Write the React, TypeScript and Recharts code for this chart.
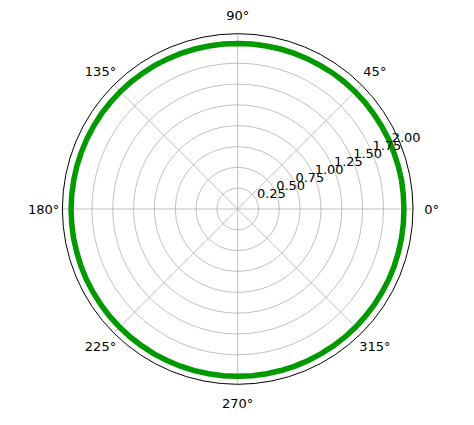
import { RadarChart, Radar, PolarGrid, PolarAngleAxis, PolarRadiusAxis } from 'recharts';

// angle in degrees, every 5°
const angles = [
  0, 5, 10, 15, 20, 25, 30, 35, 40, 45, 50, 55,
  60, 65, 70, 75, 80, 85, 90, 95, 100, 105, 110, 115,
  120, 125, 130, 135, 140, 145, 150, 155, 160, 165, 170, 175,
  180, 185, 190, 195, 200, 205, 210, 215, 220, 225, 230, 235,
  240, 245, 250, 255, 260, 265, 270, 275, 280, 285, 290, 295,
  300, 305, 310, 315, 320, 325, 330, 335, 340, 345, 350, 355,
];

// radius
const radii = [
  1.995, 1.995, 1.997, 1.995, 1.993, 1.995, 1.993, 1.992, 1.993, 1.992, 1.99, 1.99,
  1.988, 1.988, 1.987, 1.988, 1.986, 1.987, 1.986, 1.987, 1.986, 1.988, 1.987, 1.988,
  1.99, 1.99, 1.992, 1.993, 1.993, 1.995, 1.995, 1.996, 1.997, 1.998, 1.998, 1.999,
  2.0, 2.0, 2.001, 2.0, 2.002, 2.003, 2.003, 2.004, 2.005, 2.005, 2.006, 2.006,
  2.007, 2.007, 2.008, 2.008, 2.008, 2.009, 2.008, 2.008, 2.008, 2.007, 2.007, 2.006,
  2.005, 2.005, 2.004, 2.003, 2.002, 2.001, 2.0, 2.0, 1.999, 1.998, 1.997, 1.996,
];

const angleLabels = [0, 45, 90, 135, 180, 225, 270, 315];
const radiusTicks = [0.25, 0.5, 0.75, 1.0, 1.25, 1.5, 1.75, 2.0];

const data = angles.map((a, i) => ({ angle: a, r: radii[i] }));

const font = 'DejaVu Sans, sans-serif';

const AngleTick = (props: any) => {
  const { x, y, payload } = props;
  return (
    <text x={x} y={y} textAnchor="middle" dominantBaseline="central" fontSize={13} fontFamily={font} fill="#000">
      {payload.value}°
    </text>
  );
};

const RadiusTick = (props: any) => {
  const { x, y, payload } = props;
  return (
    <text x={x} y={y - 3} textAnchor="start" fontSize={13} fontFamily={font} fill="#000">
      {Number(payload.value).toFixed(2)}
    </text>
  );
};

export default function App() {
  return (
    <RadarChart
      width={458}
      height={409}
      data={data}
      cx={229.7}
      cy={201}
      outerRadius={175.3}
      startAngle={0}
      endAngle={360}
      margin={{ top: 0, right: 0, bottom: 0, left: 0 }}
    >
      <PolarGrid gridType="circle" polarAngles={angleLabels} stroke="#b0b0b0" strokeWidth={0.8} />
      <PolarAngleAxis
        dataKey="angle"
        type="number"
        domain={[0, 360]}
        ticks={angleLabels as any}
        axisLineType="circle"
        axisLine={{ stroke: '#000', strokeWidth: 1 }}
        stroke="#000"
        tickLine={false}
        tickSize={18.7}
        tick={<AngleTick />}
      />
      <PolarRadiusAxis
        type="number"
        angle={22.5}
        domain={[0, 2.104]}
        ticks={radiusTicks}
        axisLine={false}
        tickLine={false}
        tick={<RadiusTick />}
      />
      <Radar
        dataKey="r"
        stroke="#009a00"
        strokeWidth={5.5}
        fill="none"
        fillOpacity={0}
        dot={false}
        isAnimationActive={false}
      />
    </RadarChart>
  );
}
